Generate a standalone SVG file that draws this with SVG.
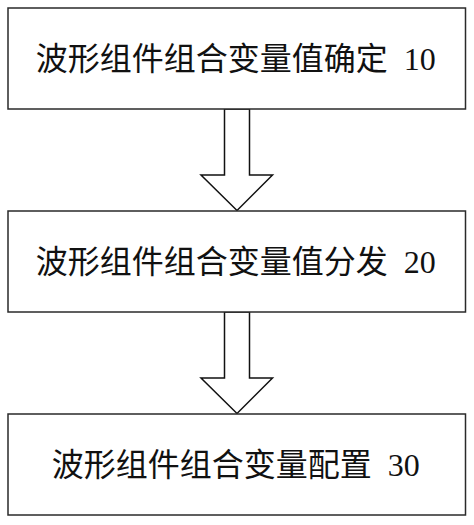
<svg xmlns="http://www.w3.org/2000/svg" width="474" height="525" viewBox="0 0 474 525">
<style>
.box{fill:#fff;stroke:#2a2a2a;stroke-width:1.5}
.arrow{fill:#fff;stroke:#111;stroke-width:1.5;stroke-linejoin:miter}
.cn{font-family:"Noto Sans CJK SC","Liberation Serif",sans-serif;font-size:32px;fill:#111}
.num{font-family:"Liberation Serif","Noto Sans CJK SC",serif;font-size:32px;fill:#111}
</style>
<rect width="474" height="525" fill="#fff"/>
<g id="connectors">
<polygon class="arrow" points="224.5,109 249.5,109 249.5,175 272.5,175 237,210.5 201,175 224.5,175"/>
<polygon class="arrow" points="224.5,312 249.5,312 249.5,378 272.5,378 237,413.5 201,378 224.5,378"/>
</g>
<g id="node10">
<rect class="box" x="8" y="8" width="457.5" height="101"/>
<text class="cn" x="35.7" y="69.5">波形组件组合变量值确定</text>
<text class="num" x="403.7" y="69.5">10</text>
</g>
<g id="node20">
<rect class="box" x="8" y="211" width="457.5" height="101"/>
<text class="cn" x="35.7" y="272.5">波形组件组合变量值分发</text>
<text class="num" x="403.7" y="272.5">20</text>
</g>
<g id="node30">
<rect class="box" x="8" y="414" width="457.5" height="101"/>
<text class="cn" x="51.7" y="475.5">波形组件组合变量配置</text>
<text class="num" x="387.7" y="475.5">30</text>
</g>
</svg>
